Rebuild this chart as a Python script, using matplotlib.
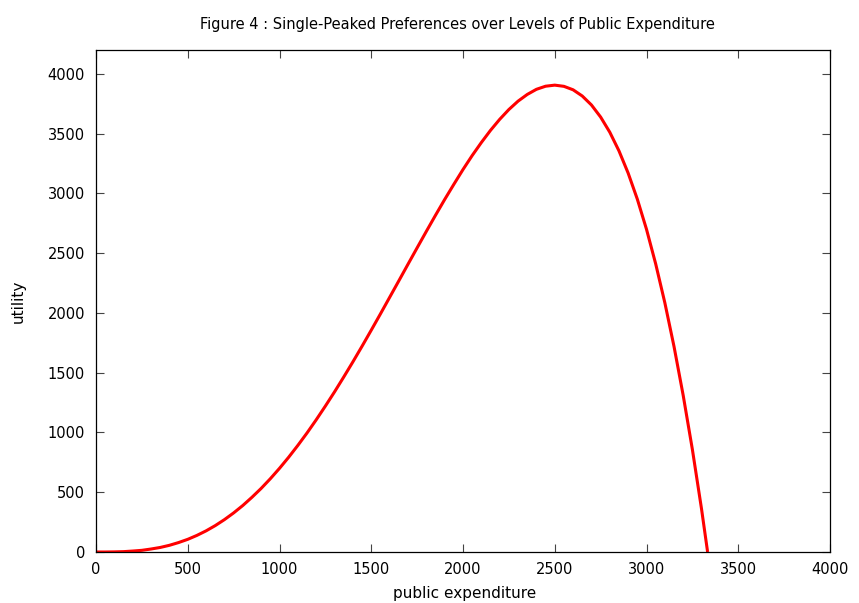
import matplotlib
matplotlib.use('Agg')
import matplotlib.pyplot as plt

# public expenditure levels and the utility
expenditure = [0, 50, 100, 150, 200, 250, 300, 350, 400, 450, 500,
               550, 600, 650, 700, 750, 800, 850, 900, 950, 1000,
               1050, 1100, 1150, 1200, 1250, 1300, 1350, 1400, 1450, 1500,
               1550, 1600, 1650, 1700, 1750, 1800, 1850, 1900, 1950, 2000,
               2050, 2100, 2150, 2200, 2250, 2300, 2350, 2400, 2450, 2500,
               2550, 2600, 2650, 2700, 2750, 2800, 2850, 2900, 2950, 3000,
               3050, 3100, 3150, 3200, 3250, 3300, 3333]
utility = [0, 0, 1, 3, 8, 14, 25, 38, 56, 79, 106,
           139, 177, 221, 271, 327, 389, 458, 532, 613, 700,
           793, 892, 996, 1106, 1221, 1340, 1464, 1591, 1722, 1856,
           1992, 2130, 2268, 2407, 2545, 2682, 2817, 2949, 3076, 3200,
           3317, 3426, 3528, 3620, 3702, 3772, 3828, 3871, 3897, 3906,
           3896, 3867, 3815, 3740, 3639, 3512, 3356, 3170, 2952, 2700,
           2411, 2085, 1719, 1310, 858, 359, 0]

x_ticks = [0, 500, 1000, 1500, 2000, 2500, 3000, 3500, 4000]
y_ticks = [0, 500, 1000, 1500, 2000, 2500, 3000, 3500, 4000]

fig = plt.figure(figsize=(8.59, 6.03), dpi=100)
ax = fig.add_axes([96 / 859, 51 / 603, 734 / 859, 502 / 603])

ax.plot(expenditure, utility, color='#ff0000', lw=2.2, solid_capstyle='butt')

ax.set_xlim(0, 4000)
ax.set_ylim(0, 4200)
ax.set_xticks(x_ticks)
ax.set_yticks(y_ticks)
ax.tick_params(direction='in', length=5.5, width=0.8, color='#444444',
               labelsize=10.5, top=True, right=True)
ax.tick_params(axis='x', pad=7)
ax.tick_params(axis='y', pad=8)
for s in ax.spines.values():
    s.set_linewidth(0.9)

fig.text(457 / 859, 1 - 29.5 / 603,
         'Figure 4 : Single-Peaked Preferences over Levels of Public Expenditure',
         ha='center', va='baseline', fontsize=10.5)
fig.text(465 / 859, 1 - 598 / 603, 'public expenditure',
         ha='center', va='baseline', fontsize=11)
fig.text(18 / 859, 1 - 301 / 603, 'utility', rotation=90,
         ha='center', va='center', fontsize=11)

fig.savefig('out.png', dpi=100)
